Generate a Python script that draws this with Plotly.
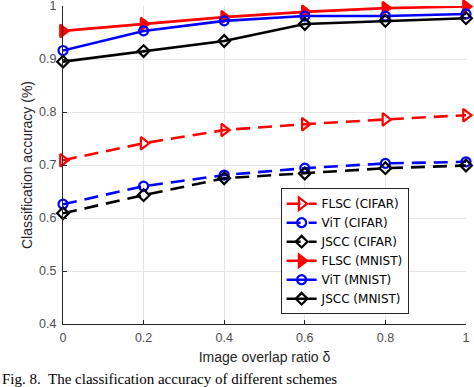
import plotly.graph_objects as go

x = [0, 0.2, 0.4, 0.6, 0.8, 1.0]
flsc_cifar = [0.709, 0.741, 0.766, 0.777, 0.786, 0.794]
vit_cifar = [0.626, 0.660, 0.681, 0.694, 0.703, 0.706]
jscc_cifar = [0.609, 0.643, 0.675, 0.684, 0.694, 0.699]
flsc_mnist = [0.953, 0.966, 0.979, 0.989, 0.996, 0.999]
vit_mnist = [0.916, 0.953, 0.972, 0.981, 0.981, 0.985]
jscc_mnist = [0.895, 0.915, 0.934, 0.966, 0.972, 0.977]

series = [
    ("FLSC (CIFAR)", flsc_cifar, "#ff0000", "dash", "triangle-right-open", 11),
    ("ViT (CIFAR)", vit_cifar, "#0000ff", "dash", "circle-open", 9),
    ("JSCC (CIFAR)", jscc_cifar, "#000000", "dash", "diamond-open", 9),
    ("FLSC (MNIST)", flsc_mnist, "#ff0000", "solid", "triangle-right", 11),
    ("ViT (MNIST)", vit_mnist, "#0000ff", "solid", "circle-open", 9),
    ("JSCC (MNIST)", jscc_mnist, "#000000", "solid", "diamond-open", 9),
]

fig = go.Figure()
for name, ys, col, dash, sym, sz in series:
    fig.add_trace(go.Scatter(
        x=x, y=ys, name=name, mode="lines+markers",
        line=dict(color=col, width=2.6, dash="14px,8px" if dash == "dash" else "solid"),
        marker=dict(symbol=sym, size=sz, color=col, line=dict(color=col, width=2.2)),
        cliponaxis=False,
    ))

fig.update_layout(
    width=474, height=387,
    margin=dict(l=63, r=8, t=6, b=63, autoexpand=False),
    paper_bgcolor="white", plot_bgcolor="white",
    font=dict(family="Liberation Sans, Arial", size=13, color="#262626"),
    showlegend=True,
    legend=dict(
        x=0.54, y=0.427, xanchor="left", yanchor="top",
        bgcolor="white", bordercolor="#262626", borderwidth=1,
        font=dict(family="DejaVu Sans", size=12, color="#000000"), itemwidth=30,
        tracegroupgap=0,
    ),
    xaxis=dict(
        range=[0, 1], tickvals=[0, 0.2, 0.4, 0.6, 0.8, 1],
        ticktext=["0", "0.2", "0.4", "0.6", "0.8", "1"],
        showgrid=True, gridcolor="#e6e6e6", gridwidth=1,
        showline=True, linecolor="#262626", linewidth=1, mirror=False,
        ticks="inside", ticklen=4, tickcolor="#262626",
        tickfont=dict(size=12.5, color="#4d4d4d"),
        ticklabeloverflow="allow", ticklabelstandoff=2,
        zeroline=False, automargin=False,
        title=dict(text="Image overlap ratio δ", font=dict(size=14, color="#262626"), standoff=8),
    ),
    yaxis=dict(
        range=[0.4, 1], tickvals=[0.4, 0.5, 0.6, 0.7, 0.8, 0.9, 1],
        ticktext=["0.4", "0.5", "0.6", "0.7", "0.8", "0.9", "1"],
        showgrid=True, gridcolor="#e6e6e6", gridwidth=1,
        showline=True, linecolor="#262626", linewidth=1, mirror=False,
        ticks="inside", ticklen=4, tickcolor="#262626",
        tickfont=dict(size=12.5, color="#4d4d4d"),
        ticklabeloverflow="allow", ticklabelstandoff=3,
        zeroline=False, automargin=False,
        title=dict(text="Classification accuracy (%)", font=dict(size=14, color="#262626"), standoff=3),
    ),
    annotations=[dict(
        text="Fig. 8.  The classification accuracy of different schemes",
        xref="paper", yref="paper", x=-0.156, y=-0.14, xanchor="left", yanchor="top",
        showarrow=False, font=dict(family="Liberation Serif, Times New Roman", size=15, color="#000000"),
    )],
)

fig.write_html("out.html", config={"displayModeBar": False},
               post_script="document.body.style.margin='0';")
